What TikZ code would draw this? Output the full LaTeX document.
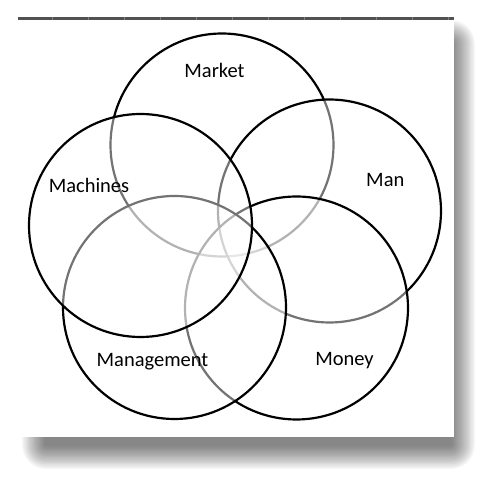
\documentclass[tikz,border=0pt]{standalone}
\usepackage{fontspec}
\setmainfont{Carlito}
\begin{document}
\begin{tikzpicture}[x=1pt, y=1pt]
\tikzstyle{ring} = [circle, draw=black, line width=2.2pt, fill=white, fill opacity=0.45, minimum size=223pt, inner sep=0pt]
\tikzstyle{ringlabel} = [font=\fontsize{20.5}{24}\selectfont, anchor=base, inner sep=0pt]
\tikzstyle{tick} = [draw=black!50, line width=0.6pt]
\useasboundingbox (0,0) rectangle (499,480);

% soft shadow behind the sheet
\foreach \k in {1,...,20}
    \fill[black, opacity=0.032, rounded corners={1.2pt*\k}]
        (46-1.2*\k, 35-1.2*\k) rectangle (451+1.2*\k, 436+1.2*\k);

% sheet and top bar
\fill[white] (18,43.3) rectangle (454,463);
\fill[black!68] (18,459.7) rectangle (454,463);
\foreach \t in {0,...,11}
    \draw[tick] (52.3+36*\t, 460) -- ++(0,2.7);

% circles, bottom one first
\node[ring] (market) at (222,335) {};
\node[ring] (man) at (329.5,269) {};
\node[ring] (money) at (296.5,172) {};
\node[ring] (management) at (174.5,172.5) {};
\node[ring] (machines) at (140.5,254.5) {};

\node[ringlabel] (marketlbl) at (214.5,402) {Market};
\node[ringlabel] (machineslbl) at (89,287) {Machines};
\node[ringlabel] (manlbl) at (385.3,293.3) {Man};
\node[ringlabel] (managementlbl) at (152.5,113) {Management};
\node[ringlabel] (moneylbl) at (344.5,114.3) {Money};
\end{tikzpicture}
\end{document}
